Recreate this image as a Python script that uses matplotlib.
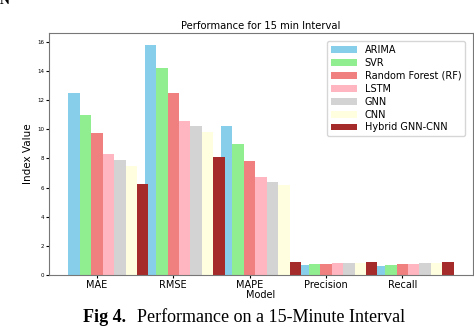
import matplotlib.pyplot as plt
import numpy as np

metrics = ["MAE", "RMSE", "MAPE", "Precision", "Recall"]
models = ["ARIMA", "SVR", "Random Forest (RF)", "LSTM", "GNN", "CNN", "Hybrid GNN-CNN"]
colors = ["skyblue", "lightgreen", "lightcoral", "lightpink", "lightgray", "lightyellow", "brown"]

# one list per model, values for MAE, RMSE, MAPE, Precision, Recall
arima = [12.5, 15.8, 10.2, 0.71, 0.64]
svr = [11.0, 14.2, 9.0, 0.75, 0.68]
rf = [9.75, 12.5, 7.8, 0.79, 0.73]
lstm = [8.3, 10.6, 6.75, 0.82, 0.76]
gnn = [7.9, 10.2, 6.4, 0.84, 0.8]
cnn = [7.5, 9.8, 6.15, 0.85, 0.82]
hybrid = [6.25, 8.1, 0.87, 0.88, 0.88]
values = [arima, svr, rf, lstm, gnn, cnn, hybrid]

index = np.arange(len(metrics))
bar_width = 0.15

fig = plt.figure(figsize=(4.74, 3.26), dpi=100)
ax = fig.add_axes([0.1034, 0.1564, 0.8946, 0.7416])
for i, model in enumerate(models):
    ax.bar(index + i*bar_width, values[i], bar_width, label=model, color=colors[i])

ax.set_xticks(index + 2*bar_width)
ax.set_xticklabels(metrics, fontsize=7)
ax.tick_params(axis="y", labelsize=4, length=2, pad=1.5)
ax.tick_params(axis="x", length=2, pad=1.5)
ax.set_xlabel("Model", fontsize=7, labelpad=0)
ax.set_ylabel("Index Value", fontsize=7.5, labelpad=3)
ax.set_title("Performance for 15 min Interval", fontsize=7.2, pad=3)
for s in ax.spines.values():
    s.set_color("#777777")
ax.legend(loc="upper right", fontsize=7, handlelength=2.7, labelspacing=0.3,
          borderaxespad=0.8)

fig.text(83/474, 0.013, "Fig 4.", ha="left", va="baseline", fontsize=13,
         family="Liberation Serif", fontweight="bold")
fig.text(137/474, 0.013, "Performance on a 15-Minute Interval", ha="left", va="baseline",
         fontsize=13, family="Liberation Serif")
fig.text(0.0, 1.0, "N", ha="left", va="center", fontsize=10, family="Liberation Serif",
         fontweight="bold")

fig.savefig("out.png", dpi=100)
